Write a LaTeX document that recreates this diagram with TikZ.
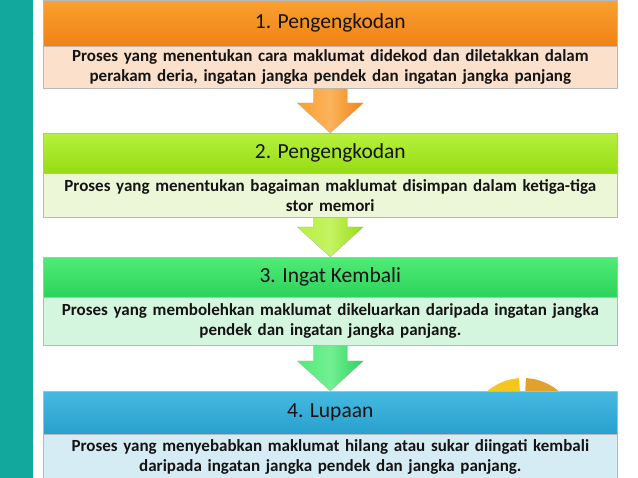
\documentclass[tikz,border=0pt]{standalone}
\usepackage{fontspec}
\setmainfont{Carlito}
\usetikzlibrary{calc}
\definecolor{teal1}{RGB}{19,168,158}
\definecolor{or1}{RGB}{250,160,50}\definecolor{or2}{RGB}{240,130,20}\definecolor{or3}{RGB}{251,224,204}
\definecolor{li1}{RGB}{182,240,60}\definecolor{li2}{RGB}{150,220,20}\definecolor{li3}{RGB}{236,247,216}
\definecolor{gr1}{RGB}{80,235,120}\definecolor{gr2}{RGB}{45,210,90}\definecolor{gr3}{RGB}{212,245,222}
\definecolor{bl1}{RGB}{70,185,225}\definecolor{bl2}{RGB}{40,160,205}\definecolor{bl3}{RGB}{214,236,244}
\definecolor{txt}{RGB}{20,20,20}
\definecolor{gold1}{RGB}{246,198,30}\definecolor{gold2}{RGB}{226,160,45}
\tikzset{
  hdr/.style={draw=gray!55, line width=0.6pt, anchor=north west, minimum width=574pt, inner sep=0pt,
    font=\fontsize{21.5}{24}\selectfont, text=txt},
  sub/.style={draw=gray!55, line width=0.6pt, anchor=north west, minimum width=574pt, inner sep=0pt,
    align=center, text width=566pt, font=\bfseries\fontsize{17}{20}\selectfont, text=txt},
  blk/.style={draw=white!70!black, line width=0.3pt}
}
\newcommand\blockarrow[4]{%
  \path[blk, left color=#3, right color=#4, middle color=#3!80!white]
   ($(#1.south)+(-17,0)$) -- ($(#2.north)+(-17,-30)$) -- ($(#2.north)+(-33,-30)$) --
   (#2.north) -- ($(#2.north)+(33,-30)$) -- ($(#2.north)+(17,-30)$) -- ($(#1.south)+(17,0)$) -- cycle;}
\begin{document}
\begin{tikzpicture}[x=1pt,y=-1pt]
\useasboundingbox (0,0) rectangle (638,478);
\fill[white] (0,0) rectangle (638,478);
\fill[teal1] (0,0) rectangle (33,478);
% gold disc, mostly hidden behind box 4
\coordinate (gc) at (523,433);
\fill[gold1] (gc) -- ++(-55,0) arc[start angle=180, end angle=270, radius=55] -- cycle;
\fill[gold2] (gc) -- ++(0,-55) arc[start angle=270, end angle=360, radius=55] -- cycle;
\fill[white] (gc) -- ++(-4,-56) -- ++(7,0) -- cycle;
% boxes
\node[hdr, minimum height=46pt, top color=or1, bottom color=or2] (h1) at (43,0) {1. Pengengkodan};
\node[sub, minimum height=42pt, fill=or3] (s1) at (43,46) {Proses yang menentukan cara maklumat didekod dan diletakkan dalam\\perakam deria, ingatan jangka pendek dan ingatan jangka panjang};
\node[hdr, minimum height=40pt, top color=li1, bottom color=li2] (h2) at (43,133) {2. Pengengkodan};
\node[sub, minimum height=44pt, fill=li3] (s2) at (43,173) {Proses yang menentukan bagaiman maklumat disimpan dalam ketiga-tiga\\stor memori};
\node[hdr, minimum height=40pt, top color=gr1, bottom color=gr2] (h3) at (43,257) {3. Ingat Kembali};
\node[sub, minimum height=48pt, fill=gr3] (s3) at (43,297) {Proses yang membolehkan maklumat dikeluarkan daripada ingatan jangka\\pendek dan ingatan jangka panjang.};
\node[hdr, minimum height=43pt, top color=bl1, bottom color=bl2] (h4) at (43,391) {4. Lupaan};
\node[sub, minimum height=46pt, fill=bl3] (s4) at (43,434) {Proses yang menyebabkan maklumat hilang atau sukar diingati kembali\\daripada ingatan jangka pendek dan jangka panjang.};
% arrows
\blockarrow{s1}{h2}{or1}{or2}
\blockarrow{s2}{h3}{li1}{li2}
\blockarrow{s3}{h4}{gr1}{gr2}
\end{tikzpicture}
\end{document}
